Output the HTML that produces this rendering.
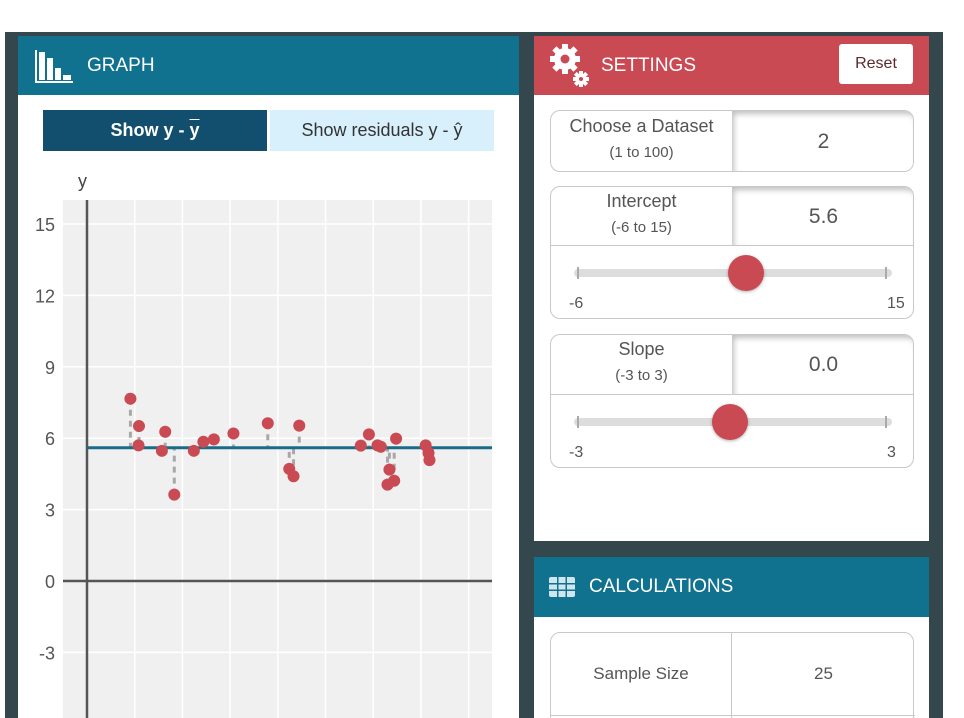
<!DOCTYPE html>
<html><head><meta charset="utf-8">
<style>
*{box-sizing:border-box;margin:0;padding:0}
html,body{width:964px;height:718px;overflow:hidden}
body{background:#fff;font-family:"Liberation Sans","DejaVu Sans",sans-serif;position:relative}
.abs{position:absolute}
.frame{left:5px;top:32px;width:938px;height:686px;background:#34474c}
.hdr{color:#fff;font-size:19px;display:flex;align-items:center}
.box{border:1px solid #c8c8c8;border-radius:10px;background:#fff;overflow:hidden}
.lbl{color:#555;text-align:center;font-size:18px;line-height:25px}
.sub{font-size:15px;color:#555}
.val{background:#fff;box-shadow:inset 2px 3px 6px rgba(0,0,0,0.25);border-top-right-radius:10px;text-align:center;font-size:21px;color:#555}
.track{height:8px;background:#ddd;border-radius:4px}
.thumb{width:36px;height:36px;border-radius:50%;background:#c94a53;box-shadow:0 1px 3px rgba(0,0,0,.3)}
.tick{width:2px;height:12px;background:#aaa}
.sl{font-size:16px;color:#555}
</style></head><body>
<div class="abs frame"></div>

<div class="abs" style="left:18px;top:36px;width:501px;height:682px;background:#fff"></div>
<div class="abs hdr" style="left:18px;top:36px;width:501px;height:59px;background:#10728f">
 <svg width="40" height="36" style="margin-left:15px"><rect x="2" y="2" width="2" height="32" fill="#fff"/><rect x="2" y="33" width="38" height="2" fill="#fff"/><rect x="6" y="4" width="6" height="28" fill="#fff"/><rect x="14" y="10" width="6" height="22" fill="#fff"/><rect x="22" y="20" width="6" height="12" fill="#fff"/><rect x="30" y="27" width="8" height="5" fill="#fff"/></svg>
 <span style="margin-left:14px">GRAPH</span>
</div>
<div class="abs" style="left:43px;top:110px;width:224px;height:41px;background:#124e6e;color:#fff;font-weight:bold;font-size:18px;text-align:center;line-height:41px">Show y - <span style="text-decoration:overline">y</span></div>
<div class="abs" style="left:270px;top:110px;width:224px;height:41px;background:#d8f0fc;color:#333;font-size:18px;text-align:center;line-height:41px">Show residuals y - ŷ</div>

<svg class="abs" style="left:0;top:0" width="520" height="718" id="chart"></svg>

<div class="abs" style="left:534px;top:36px;width:395px;height:505px;background:#fff"></div>
<div class="abs hdr" style="left:534px;top:36px;width:395px;height:59px;background:#c94a53">
 <svg width="46" height="50" style="margin-left:14px">
  <circle cx="17" cy="18" r="11" fill="#fff"/>
  <g fill="#fff"><rect x="14" y="3" width="6" height="30"/><rect x="2" y="15" width="30" height="6"/><rect x="14" y="3" width="6" height="30" transform="rotate(45 17 18)"/><rect x="14" y="3" width="6" height="30" transform="rotate(-45 17 18)"/></g>
  <circle cx="17" cy="18" r="4.5" fill="#c94a53"/>
  <circle cx="33" cy="38" r="5" fill="#fff"/><g fill="#fff"><rect x="31" y="30" width="4" height="16"/><rect x="25" y="36" width="16" height="4"/><rect x="31" y="30" width="4" height="16" transform="rotate(45 33 38)"/><rect x="31" y="30" width="4" height="16" transform="rotate(-45 33 38)"/></g><circle cx="33" cy="38" r="2" fill="#c94a53"/>
 </svg>
 <span style="margin-left:7px">SETTINGS</span>
</div>
<div class="abs" style="left:839px;top:44px;width:74px;height:40px;background:#fff;border-radius:3px;color:#5a2a30;font-size:16px;text-align:center;line-height:40px">Reset</div>

<div class="abs box" style="left:550px;top:110px;width:364px;height:62px">
 <div class="abs lbl" style="left:0;top:3px;width:181px">Choose a Dataset<br><span class="sub">(1 to 100)</span></div>
 <div class="abs val" style="left:181px;top:0;width:183px;height:62px;line-height:62px">2</div>
</div>

<div class="abs box" style="left:550px;top:186px;width:364px;height:133px">
 <div class="abs lbl" style="left:0;top:2px;width:181px">Intercept<br><span class="sub">(-6 to 15)</span></div>
 <div class="abs val" style="left:181px;top:0;width:183px;height:59px;line-height:59px">5.6</div>
 <div class="abs" style="left:0;top:58px;width:364px;height:1px;background:#c8c8c8"></div>
 <div class="abs track" style="left:23px;top:82px;width:318px"></div>
 <div class="abs tick" style="left:26px;top:80px"></div><div class="abs tick" style="left:334px;top:80px"></div>
 <div class="abs thumb" style="left:177px;top:68px"></div>
 <div class="abs sl" style="left:18px;top:108px">-6</div><div class="abs sl" style="left:336px;top:108px">15</div>
</div>

<div class="abs box" style="left:550px;top:334px;width:364px;height:134px">
 <div class="abs lbl" style="left:0;top:2px;width:181px">Slope<br><span class="sub">(-3 to 3)</span></div>
 <div class="abs val" style="left:181px;top:0;width:183px;height:60px;line-height:60px">0.0</div>
 <div class="abs" style="left:0;top:59px;width:364px;height:1px;background:#c8c8c8"></div>
 <div class="abs track" style="left:23px;top:83px;width:318px"></div>
 <div class="abs tick" style="left:26px;top:81px"></div><div class="abs tick" style="left:334px;top:81px"></div>
 <div class="abs thumb" style="left:161px;top:69px"></div>
 <div class="abs sl" style="left:18px;top:109px">-3</div><div class="abs sl" style="left:336px;top:109px">3</div>
</div>

<div class="abs" style="left:534px;top:557px;width:395px;height:161px;background:#fff"></div>
<div class="abs hdr" style="left:534px;top:557px;width:395px;height:60px;background:#10728f">
 <svg width="26" height="20" style="margin-left:15px"><rect x="0" y="0" width="26" height="20" rx="2" fill="#cfe6ee"/><g fill="#10728f"><rect x="0" y="6" width="26" height="1.5"/><rect x="0" y="12.5" width="26" height="1.5"/><rect x="8" y="0" width="1.5" height="20"/><rect x="16.5" y="0" width="1.5" height="20"/></g></svg>
 <span style="margin-left:14px">CALCULATIONS</span>
</div>
<div class="abs" style="left:550px;top:632px;width:364px;height:100px;border:1px solid #c8c8c8;border-radius:10px;background:#fff">
 <div class="abs" style="left:180px;top:0;width:1px;height:100px;background:#c8c8c8"></div>
 <div class="abs" style="left:0;top:82px;width:364px;height:1px;background:#c8c8c8"></div>
 <div class="abs" style="left:0;top:31px;width:180px;text-align:center;font-size:17px;color:#555">Sample Size</div>
 <div class="abs" style="left:181px;top:31px;width:183px;text-align:center;font-size:17px;color:#555">25</div>
</div>

<script>
const xVals=[0.91,1.09,1.08,1.57,1.64,1.83,2.24,2.44,2.66,3.07,3.79,4.24,4.33,4.45,5.74,5.91,6.09,6.16,6.34,6.30,6.44,6.48,7.10,7.16,7.18];
const yVals=[7.66,6.51,5.70,5.47,6.27,3.63,5.47,5.85,5.95,6.20,6.63,4.71,4.40,6.53,5.69,6.16,5.70,5.64,4.68,4.05,4.21,5.98,5.70,5.38,5.08];
const yTicks=[15,12,9,6,3,0,-3];
const xGrid=[1,2,3,4,5,6,7,8];
const intercept=[5.6];
const slope=[0.0];
const NS='http://www.w3.org/2000/svg';
const svg=document.getElementById('chart');
const X=v=>87+v*47.7;
const Y=v=>581-v*23.8;
const L=63,R=492,T=200,B=718;
function mk(t,a){const e=document.createElementNS(NS,t);for(const k in a)e.setAttribute(k,a[k]);svg.appendChild(e);return e;}
let e;
e=mk('rect',{x:L,y:T,width:R-L,height:B-T,fill:'#f0f0f0'});


yTicks.forEach(t=>{mk('line',{x1:L,x2:R,y1:Y(t),y2:Y(t),stroke:'#fff','stroke-width':1.5});
 e=mk('text',{x:55,y:Y(t)+7,'text-anchor':'end','font-size':18,fill:'#555','font-family':'Liberation Sans, sans-serif'});e.textContent=t;
 
 });
xGrid.forEach(g=>mk('line',{x1:X(g),x2:X(g),y1:T,y2:B,stroke:'#fff','stroke-width':1.5}));
e=mk('text',{x:78,y:187,'font-size':18,fill:'#444','font-family':'Liberation Sans, sans-serif'});e.textContent='y';


mk('line',{x1:L,x2:R,y1:Y(0),y2:Y(0),stroke:'#555','stroke-width':2.5});
mk('line',{x1:X(0),x2:X(0),y1:T,y2:B,stroke:'#555','stroke-width':2.5});
const fit=v=>intercept[0]+slope[0]*v;
xVals.forEach((x,i)=>{e=mk('line',{x1:X(x),x2:X(x),y1:Y(yVals[i]),y2:Y(fit(x)),stroke:'#a8a8a8','stroke-width':3,'stroke-dasharray':'6,5'});
 
 });
e=mk('line',{x1:X(0),x2:R,y1:Y(fit(0)),y2:Y(fit((R-87)/47.7)),stroke:'#1a6b88','stroke-width':3});


xVals.forEach((x,i)=>{e=mk('circle',{cx:X(x),cy:Y(yVals[i]),r:6,fill:'#c94a53'});
 
 });
</script>
</body></html>
